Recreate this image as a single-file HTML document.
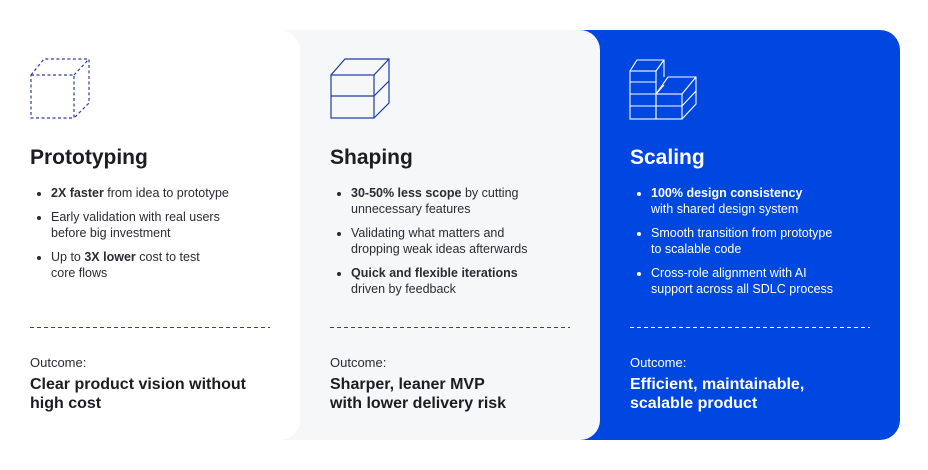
<!DOCTYPE html>
<html><head><style>
body{margin:0;width:928px;height:470px;background:#fff;position:relative;overflow:hidden;font-family:"Liberation Sans",sans-serif;}
.p{position:absolute;top:30px;height:410px;border-radius:0 20px 20px 0;}
.t{position:absolute;font-weight:bold;font-size:21px;top:146px;}
ul{position:absolute;top:185px;margin:0;padding:0 0 0 20px;font-size:12.5px;line-height:16px;width:240px;white-space:nowrap;}
li{margin-bottom:8px;}
.line{position:absolute;top:327px;width:240px;height:1.3px;}
.oc{position:absolute;top:355px;font-size:13px;}
.ov{position:absolute;top:375px;font-size:16px;font-weight:bold;line-height:19px;}
</style></head><body>
<div class="p" style="left:560px;width:340px;background:#0047e1;"></div>
<div class="p" style="left:260px;width:340px;background:#f6f7f9;"></div>
<div class="p" style="left:0;width:300px;background:#fff;"></div>

<svg style="position:absolute;left:0;top:0" width="928" height="140">
<g fill="none" stroke="#2d3e9b" stroke-width="1.2" stroke-dasharray="3,2.5">
<rect x="31" y="75" width="43" height="43"/><path d="M31 75 L44 59 H89 V103 L74 118 M74 75 L89 59"/></g>
<g fill="none" stroke="#1f3ba0" stroke-width="1.2">
<rect x="331" y="75" width="43" height="43"/><line x1="331" y1="96" x2="374" y2="96"/><path d="M331 75 L345 59 H389 V103 L374 118 M374 75 L389 59 M374 96 L389 81"/></g>
<g fill="none" stroke="#fff" stroke-width="1.1">
<rect x="630" y="71" width="26" height="48"/><path d="M630 82 H656 M630 94 H656 M630 106 H682 M630 71 L637 60 H664 V77 M656 71 L664 60"/>
<rect x="656" y="94" width="26" height="25"/><path d="M656 94 L668 77 H696 V104 L682 119 M682 94 L696 77 M682 106 L696 91 M656 106 L682 106 M656 94 L664 85"/></g>
</svg>

<div class="t" style="left:30px;color:#1b1d22">Prototyping</div>
<ul style="left:31px;color:#2a2c33">
<li><b>2X faster</b> from idea to prototype</li>
<li>Early validation with real users<br>before big investment</li>
<li>Up to <b>3X lower</b> cost to test<br>core flows</li></ul>
<div class="line" style="left:30px;background:repeating-linear-gradient(90deg,#2d3e9b 0 4px,transparent 4px 7px)"></div>
<div class="oc" style="left:30px;color:#2a2c33">Outcome:</div>
<div class="ov" style="left:30px;color:#1b1d22">Clear product vision without<br>high cost</div>

<div class="t" style="left:330px;color:#1b1d22">Shaping</div>
<ul style="left:331px;color:#2a2c33">
<li><b>30-50% less scope</b> by cutting<br>unnecessary features</li>
<li>Validating what matters and<br>dropping weak ideas afterwards</li>
<li><b>Quick and flexible iterations</b><br>driven by feedback</li></ul>
<div class="line" style="left:330px;background:repeating-linear-gradient(90deg,#2d3e9b 0 4px,transparent 4px 7px)"></div>
<div class="oc" style="left:330px;color:#2a2c33">Outcome:</div>
<div class="ov" style="left:330px;color:#1b1d22">Sharper, leaner MVP<br>with lower delivery risk</div>

<div class="t" style="left:630px;color:#fff">Scaling</div>
<ul style="left:631px;color:#fff">
<li><b>100% design consistency</b><br>with shared design system</li>
<li>Smooth transition from prototype<br>to scalable code</li>
<li>Cross-role alignment with AI<br>support across all SDLC process</li></ul>
<div class="line" style="left:630px;background:repeating-linear-gradient(90deg,#fff 0 4px,transparent 4px 7px)"></div>
<div class="oc" style="left:630px;color:#fff">Outcome:</div>
<div class="ov" style="left:630px;color:#fff">Efficient, maintainable,<br>scalable product</div>
</body></html>
